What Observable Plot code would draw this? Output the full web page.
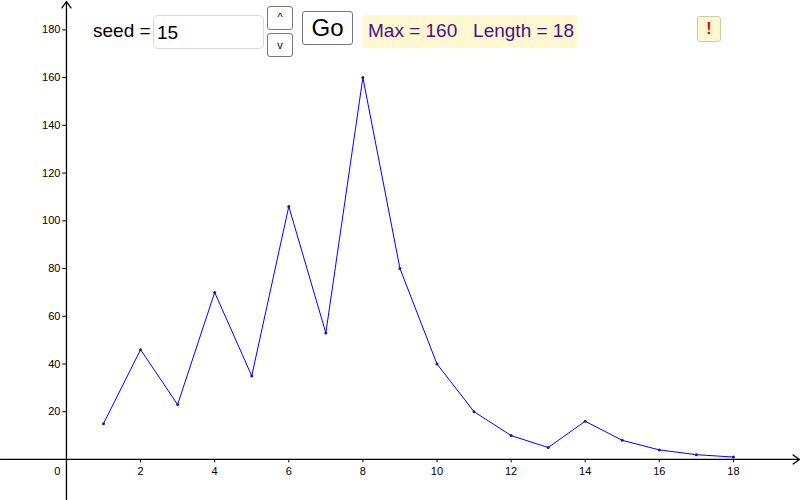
<!DOCTYPE html>
<html><head><meta charset="utf-8">
<script src="https://cdn.jsdelivr.net/npm/d3@7"></script>
<script src="https://cdn.jsdelivr.net/npm/@observablehq/plot@0.6"></script>
<style>
html,body{margin:0;padding:0;background:#fff;font-family:"Liberation Sans",Arial,sans-serif;}
#wrap{position:relative;width:800px;height:500px;overflow:hidden;}
#wrap svg{position:absolute;left:0;top:0;}
.w{position:absolute;box-sizing:border-box;}
</style></head><body>
<div id="wrap">
  <div class="w" style="left:93px;top:20px;font-size:19px;color:#000;">seed =</div>
  <div class="w" style="left:153px;top:15px;width:111px;height:34px;border:1px solid #d9d9d9;border-radius:5px;background:#fff;font-size:19px;padding:6px 0 0 3px;">15</div>
  <div class="w" style="left:267px;top:6px;width:26px;height:24px;border:1px solid #777;border-radius:3px;background:#fff;font-size:11px;text-align:center;padding-top:4px;">^</div>
  <div class="w" style="left:267px;top:33px;width:26px;height:24px;border:1px solid #777;border-radius:3px;background:#fff;font-size:11px;text-align:center;padding-top:5px;">v</div>
  <div class="w" style="left:302px;top:11px;width:51px;height:34px;border:1px solid #777;border-radius:3px;background:#fff;font-size:24px;text-align:center;padding-top:2px;">Go</div>
  <div class="w" style="left:363px;top:15px;width:214px;height:33px;background:#fff8d1;color:#4b0f8a;font-size:19px;padding:5px 0 0 5px;white-space:pre;" id="info"></div>
  <div class="w" style="left:697px;top:16px;width:24px;height:26px;border:1px solid #cfc9a8;border-radius:3px;background:#fff8d1;color:#e00;font-size:16px;font-weight:bold;text-align:center;padding-top:3px;">!</div>
</div>
<script>
const seed = 15;
const steps = [1,2,3,4,5,6,7,8,9,10,11,12,13,14,15,16,17,18];
const values = [15,46,23,70,35,106,53,160,80,40,20,10,5,16,8,4,2,1];
const xTicks = [2,4,6,8,10,12,14,16,18];
const yTicks = [20,40,60,80,100,120,140,160,180];
const data = steps.map((s,i)=>({x:s,y:values[i]}));

document.getElementById("info").textContent = "Max = " + d3.max(values) + "   Length = " + values.length;

const xDom = [-1.78, 19.81];
const yDom = [-17.2, 192.3];
const chart = Plot.plot({
  width: 800, height: 500,
  margin: 0,
  x: {domain: xDom, axis: null},
  y: {domain: yDom, axis: null},
  style: {fontFamily: "Liberation Sans, Arial, sans-serif", fontSize: "11px", background: "transparent"},
  marks: [
    Plot.arrow([0], {x1: xDom[0], x2: xDom[1], y1: 0, y2: 0, stroke: "#000", strokeWidth: 1.3, headLength: 9, headAngle: 70, insetEnd: 1}),
    Plot.arrow([0], {x1: 0, x2: 0, y1: yDom[0], y2: yDom[1], stroke: "#000", strokeWidth: 1.3, headLength: 9, headAngle: 70, insetEnd: 1}),
    Plot.ruleY(yTicks, {y: d=>d, x1: -0.1, x2: 0, stroke: "#000", strokeWidth: 1}),
    Plot.ruleX(xTicks, {x: d=>d, y1: 0, y2: -1.4, stroke: "#000", strokeWidth: 1}),
    Plot.text(yTicks, {x: 0, y: d=>d, text: d=>String(d), dx: -6, textAnchor: "end", fill: "#000"}),
    Plot.text(xTicks, {x: d=>d, y: 0, text: d=>String(d), dy: 12, fill: "#000"}),
    Plot.text([0], {x: 0, y: 0, text: d=>"0", dx: -6, dy: 12, textAnchor: "end", fill: "#000"}),
    Plot.line(data, {x: "x", y: "y", stroke: "#0000ff", strokeWidth: 1}),
    Plot.dot(data, {x: "x", y: "y", r: 1.5, fill: "#2a1f5c", stroke: "none"})
  ]
});
document.getElementById("wrap").prepend(chart);
</script>
</body></html>
